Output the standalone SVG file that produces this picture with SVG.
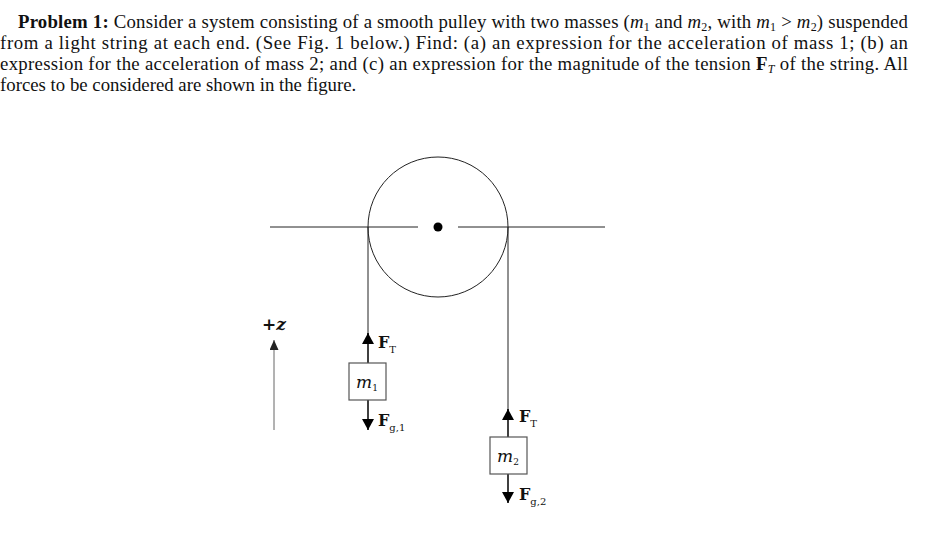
<svg xmlns="http://www.w3.org/2000/svg" width="934" height="543" viewBox="0 0 934 543">
<style>
.t{font-family:"Liberation Serif",serif;font-size:18.8px;fill:#111}
.s{font-family:"DejaVu Serif",serif;fill:#111}
.l{stroke:#222;stroke-width:1;fill:none}
.box{fill:#fff;stroke:#555;stroke-width:1.2}
.sb{font-size:12px;baseline-shift:-3px}
</style>
<defs>
<marker id="ah" markerWidth="11" markerHeight="12" refX="11" refY="6" orient="auto" markerUnits="userSpaceOnUse"><path d="M0,0 L11,6 L0,12 z" fill="#000"/></marker>
<marker id="ag" markerWidth="10" markerHeight="9" refX="10" refY="4.5" orient="auto" markerUnits="userSpaceOnUse"><path d="M0,0 L10,4.5 L0,9 z" fill="#222"/></marker>
</defs>
<g id="text">
<text class="t" x="18" y="28" textLength="890" lengthAdjust="spacing"><tspan font-weight="bold">Problem 1:</tspan> Consider a system consisting of a smooth pulley with two masses (<tspan font-style="italic">m</tspan><tspan class="sb">1</tspan> and <tspan font-style="italic">m</tspan><tspan class="sb">2</tspan>, with <tspan font-style="italic">m</tspan><tspan class="sb">1</tspan> &gt; <tspan font-style="italic">m</tspan><tspan class="sb">2</tspan>) suspended</text>
<text class="t" x="0" y="49" textLength="908" lengthAdjust="spacing">from a light string at each end.  (See Fig. 1 below.)  Find:  (a) an expression for the acceleration of mass 1; (b) an</text>
<text class="t" x="0" y="70" textLength="908" lengthAdjust="spacing">expression for the acceleration of mass 2; and (c) an expression for the magnitude of the tension <tspan font-weight="bold">F</tspan><tspan font-style="italic" class="sb">T</tspan> of the string.  All</text>
<text class="t" x="0" y="91">forces to be considered are shown in the figure.</text>
</g>
<g id="pulley">
<circle cx="438" cy="227" r="70" class="l"/>
<circle cx="438" cy="227" r="4.5" fill="#000"/>
</g>
<g id="connectors">
<line class="l" x1="270" y1="227" x2="418" y2="227"/>
<line class="l" x1="458" y1="227" x2="605" y2="227"/>
<line class="l" x1="368" y1="227" x2="368" y2="335"/>
<line class="l" x1="508" y1="227" x2="508" y2="412"/>
<line stroke="#000" stroke-width="1.5" x1="368" y1="363" x2="368" y2="333" marker-end="url(#ah)"/>
<line stroke="#000" stroke-width="1.5" x1="368" y1="400" x2="368" y2="430" marker-end="url(#ah)"/>
<line stroke="#000" stroke-width="1.5" x1="508" y1="437" x2="508" y2="409" marker-end="url(#ah)"/>
<line stroke="#000" stroke-width="1.5" x1="508" y1="474" x2="508" y2="503" marker-end="url(#ah)"/>
<line stroke="#666" stroke-width="1" x1="274" y1="430" x2="274" y2="340" marker-end="url(#ag)"/>
</g>
<g id="m1">
<rect class="box" x="349" y="363" width="37" height="37"/>
<text class="s" x="356" y="388" font-size="17" font-style="italic">m<tspan font-size="9" dy="3" font-style="normal">1</tspan></text>
</g>
<g id="m2">
<rect class="box" x="490" y="437" width="37" height="37"/>
<text class="s" x="497" y="462" font-size="17" font-style="italic">m<tspan font-size="9" dy="3" font-style="normal">2</tspan></text>
</g>
<g id="labels">
<text class="s" x="262" y="330" font-size="17" font-weight="bold">+<tspan font-style="italic">z</tspan></text>
<text class="s" x="378" y="348" font-size="16" font-weight="bold">F<tspan font-size="10" font-weight="normal" dy="5">T</tspan></text>
<text class="s" x="378" y="426" font-size="16" font-weight="bold">F<tspan font-size="10" font-weight="normal" dy="5">g,1</tspan></text>
<text class="s" x="519" y="422" font-size="16" font-weight="bold">F<tspan font-size="10" font-weight="normal" dy="5">T</tspan></text>
<text class="s" x="519" y="500" font-size="16" font-weight="bold">F<tspan font-size="10" font-weight="normal" dy="5">g,2</tspan></text>
</g>
</svg>
